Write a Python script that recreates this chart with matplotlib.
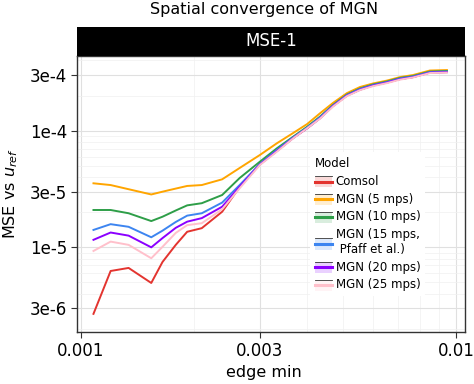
import matplotlib
matplotlib.use("Agg")
import matplotlib.pyplot as plt
from matplotlib.legend_handler import HandlerBase
from matplotlib.lines import Line2D
from matplotlib.patches import Rectangle
from matplotlib.ticker import NullFormatter, LogLocator

# data
edge_min = [0.00108, 0.00120, 0.00134, 0.00154, 0.00165, 0.00179, 0.00192, 0.00210,
            0.00238, 0.00265, 0.00300, 0.00333, 0.00368, 0.00401, 0.00434, 0.00470,
            0.00512, 0.00555, 0.00601, 0.00655, 0.00709, 0.00768, 0.00852, 0.00946]

comsol = [2.69e-6, 6.27e-6, 6.66e-6, 4.95e-6, 7.49e-6, 1.05e-5, 1.36e-5, 1.46e-5,
          2.02e-5, 3.29e-5, 5.18e-5, 6.70e-5, 8.66e-5, 1.05e-4, 1.28e-4, 1.63e-4,
          2.00e-4, 2.25e-4, 2.44e-4, 2.59e-4, 2.77e-4, 2.88e-4, 3.15e-4, 3.18e-4]
mgn_5 = [3.54e-5, 3.42e-5, 3.15e-5, 2.84e-5, 3.00e-5, 3.19e-5, 3.36e-5, 3.42e-5,
         3.83e-5, 4.79e-5, 6.19e-5, 7.80e-5, 9.55e-5, 1.14e-4, 1.41e-4, 1.73e-4,
         2.10e-4, 2.37e-4, 2.54e-4, 2.69e-4, 2.88e-4, 3.00e-4, 3.28e-4, 3.31e-4]
mgn_10 = [2.09e-5, 2.09e-5, 1.96e-5, 1.68e-5, 1.83e-5, 2.07e-5, 2.29e-5, 2.39e-5,
          2.81e-5, 3.93e-5, 5.42e-5, 7.06e-5, 8.88e-5, 1.08e-4, 1.32e-4, 1.66e-4,
          2.04e-4, 2.30e-4, 2.49e-4, 2.64e-4, 2.83e-4, 2.94e-4, 3.21e-4, 3.25e-4]
mgn_15 = [1.41e-5, 1.58e-5, 1.50e-5, 1.22e-5, 1.39e-5, 1.65e-5, 1.87e-5, 1.96e-5,
          2.42e-5, 3.42e-5, 5.18e-5, 6.83e-5, 8.74e-5, 1.06e-4, 1.30e-4, 1.64e-4,
          2.02e-4, 2.28e-4, 2.46e-4, 2.61e-4, 2.80e-4, 2.91e-4, 3.18e-4, 3.21e-4]
mgn_20 = [1.16e-5, 1.34e-5, 1.26e-5, 1.00e-5, 1.20e-5, 1.47e-5, 1.66e-5, 1.78e-5,
          2.23e-5, 3.31e-5, 5.13e-5, 6.70e-5, 8.66e-5, 1.05e-4, 1.28e-4, 1.63e-4,
          2.00e-4, 2.25e-4, 2.44e-4, 2.59e-4, 2.77e-4, 2.88e-4, 3.15e-4, 3.18e-4]
mgn_25 = [9.31e-6, 1.12e-5, 1.05e-5, 8.06e-6, 1.01e-5, 1.33e-5, 1.55e-5, 1.61e-5,
          2.12e-5, 3.21e-5, 5.08e-5, 6.61e-5, 8.60e-5, 1.05e-4, 1.27e-4, 1.61e-4,
          1.98e-4, 2.23e-4, 2.41e-4, 2.56e-4, 2.74e-4, 2.86e-4, 3.12e-4, 3.15e-4]

labels = ["Comsol", "MGN (5 mps)", "MGN (10 mps)", "MGN (15 mps,\n Pfaff et al.)",
          "MGN (20 mps)", "MGN (25 mps)"]
colors = ["#e3342f", "#ffa500", "#2e9e48", "#3d85f0", "#8b00ff", "#ffc0cb"]
series = [comsol, mgn_5, mgn_10, mgn_15, mgn_20, mgn_25]

x_ticks = [0.001, 0.003, 0.01]
x_ticklabels = ["0.001", "0.003", "0.01"]
y_ticks = [3e-6, 1e-5, 3e-5, 1e-4, 3e-4]
y_ticklabels = ["3e-6", "1e-5", "3e-5", "1e-4", "3e-4"]


# legend key: thin dark line on top, pale band, coloured line
class KeyHandler(HandlerBase):
    def create_artists(self, legend, orig, xd, yd, w, h, fontsize, trans):
        c = orig.get_color()
        band = Rectangle((xd, yd - 0.3 * h), w, 1.3 * h, facecolor=c, alpha=0.18,
                         edgecolor="none", transform=trans)
        top = Line2D([xd, xd + w], [yd + 1.05 * h, yd + 1.05 * h], color="#333333",
                     lw=0.6, transform=trans)
        mid = Line2D([xd, xd + w], [yd + 0.4 * h, yd + 0.4 * h], color=c,
                     lw=2.2, transform=trans)
        return [band, top, mid]


fig = plt.figure(figsize=(4.74, 3.84), dpi=100)
ax = fig.add_axes([0.1624, 0.1354, 0.8186, 0.7188])

lines = []
for vals, col, lab in zip(series, colors, labels):
    ln, = ax.plot(edge_min, vals, color=col, lw=1.4, label=lab)
    lines.append(ln)

ax.set_xscale("log")
ax.set_yscale("log")
ax.set_xlim(0.000976, 0.01057)
ax.set_ylim(1.88e-6, 4.37e-4)
ax.set_xticks(x_ticks)
ax.set_xticklabels(x_ticklabels)
ax.set_yticks(y_ticks)
ax.set_yticklabels(y_ticklabels)
ax.xaxis.set_minor_locator(LogLocator(base=10, subs=range(2, 10)))
ax.yaxis.set_minor_locator(LogLocator(base=10, subs=range(2, 10)))
ax.xaxis.set_minor_formatter(NullFormatter())
ax.yaxis.set_minor_formatter(NullFormatter())

ax.grid(which="major", color="#e0e0e0", lw=0.8)
ax.grid(which="minor", color="#f0f0f0", lw=0.5)
ax.set_axisbelow(True)
ax.tick_params(which="major", labelsize=12, length=4, width=0.8, color="#333333", pad=3)
ax.tick_params(which="minor", length=0)
for sp in ax.spines.values():
    sp.set_color("#333333")
    sp.set_linewidth(1.0)

leg = ax.legend(handles=lines, title="Model", loc="upper left",
                bbox_to_anchor=(0.585, 0.672), fontsize=8.5, title_fontsize=8.5,
                frameon=True, framealpha=1, edgecolor="none", facecolor="white",
                handlelength=1.5, handletextpad=0.3, labelspacing=0.4,
                borderpad=0.4, handler_map={Line2D: KeyHandler()})
leg._legend_box.align = "left"

# facet strip
strip = fig.add_axes([0.1624, 0.8542, 0.8186, 0.0755])
strip.set_facecolor("black")
strip.set_xticks([])
strip.set_yticks([])
for sp in strip.spines.values():
    sp.set_visible(False)
strip.text(0.5, 0.5, "MSE-1", color="white", fontsize=12, ha="center", va="center",
           transform=strip.transAxes)

fig.text(0.557, 0.974, "Spatial convergence of MGN", fontsize=11.5, ha="center", va="center")
fig.text(0.557, 0.029, "edge min", fontsize=11.5, ha="center", va="center")
fig.text(0.022, 0.497, "MSE vs $u_{ref}$", fontsize=11.5, ha="center", va="center",
         rotation=90)

fig.savefig("out.png", dpi=100)
